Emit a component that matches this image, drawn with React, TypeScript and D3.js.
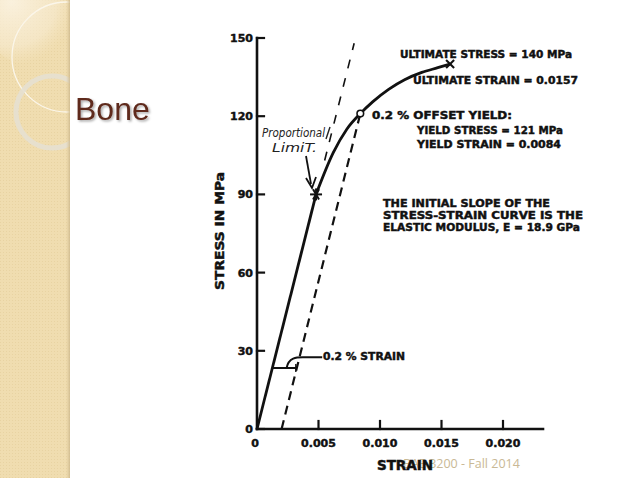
import React from "react";
import * as d3 from "d3";

const W = 638;
const H = 478;

// data
const strainTicks = [0, 0.005, 0.01, 0.015, 0.02];
const strainTickLabels = ["0", "0.005", "0.010", "0.015", "0.020"];
const stressTicks = [0, 30, 60, 90, 120, 150];
const stressTickLabels = ["0", "30", "60", "90", "120", "150"];

const linearStrain = [0, 0.0048];
const linearStress = [0, 90];
const curveStrain = [0.0048, 0.0062, 0.0073, 0.0084, 0.0094, 0.0107, 0.012, 0.0134, 0.0147, 0.0157];
const curveStress = [90, 106, 115, 121, 125.5, 130.3, 134, 136.8, 138.6, 140];
const offsetStrain = [0.002, 0.0084];
const offsetStress = [0, 121];
const extStrain = [0.0055, 0.0079];
const extStress = [103, 148];
const proportional = { strain: 0.0048, stress: 90 };
const yieldPt = { strain: 0.0084, stress: 121 };
const ultimate = { strain: 0.0157, stress: 140 };

const FONT = "DejaVu Sans";

function Caps({ x, y, len, children, size = 10 }: any) {
  return (
    <text
      x={x}
      y={y}
      fontFamily={FONT}
      fontWeight="bold"
      fontSize={size}
      textLength={len}
      lengthAdjust="spacingAndGlyphs"
      fill="#111"
      stroke="#111"
      strokeWidth="0.45"
    >
      {children}
    </text>
  );
}

export default function App() {
  const x = d3.scaleLinear().domain([0, 0.02]).range([257, 503]);
  const y = d3.scaleLinear().domain([0, 150]).range([429, 38]);

  const line = d3
    .line<[number, number]>()
    .x((d) => x(d[0]))
    .y((d) => y(d[1]));
  const curve = d3
    .line<[number, number]>()
    .x((d) => x(d[0]))
    .y((d) => y(d[1]))
    .curve(d3.curveMonotoneX);

  const zip = (a: number[], b: number[]) => a.map((v, i) => [v, b[i]] as [number, number]);

  const px = x(proportional.strain);
  const py = y(proportional.stress);
  const yx = x(yieldPt.strain);
  const yy = y(yieldPt.stress);
  const ux = x(ultimate.strain);
  const uy = y(ultimate.stress);

  // 0.2% strain bracket
  const bStress = 23.4;
  const bx1 = x(bStress / 18750);
  const bx2 = x(0.002 + bStress / 18906);
  const by = y(bStress);
  const ly = y(27.5);

  return (
    <div style={{ position: "fixed", left: 0, top: 0, width: W, height: H }}>
      <svg width={W} height={H} style={{ display: "block" }}>
        <defs>
          <pattern id="dots" width="3" height="3" patternUnits="userSpaceOnUse">
            <rect width="3" height="3" fill="#f0ddb0" />
            <rect width="1" height="1" fill="#e8d3a2" />
          </pattern>
          <linearGradient id="shade" x1="0" x2="1" y1="0" y2="0">
            <stop offset="0" stopColor="#d9c497" stopOpacity="0" />
            <stop offset="1" stopColor="#cbb68a" stopOpacity="0.8" />
          </linearGradient>
          <radialGradient id="glow" cx="0.3" cy="0.3" r="0.7">
            <stop offset="0" stopColor="#fbf3e2" stopOpacity="0.9" />
            <stop offset="0.7" stopColor="#f8ecd3" stopOpacity="0.6" />
            <stop offset="1" stopColor="#f5e6c6" stopOpacity="0" />
          </radialGradient>
          <clipPath id="panel">
            <rect x="0" y="0" width="70" height={H} />
          </clipPath>
          <filter id="tshadow" x="-10%" y="-10%" width="130%" height="140%">
            <feDropShadow dx="1.5" dy="1.5" stdDeviation="1.2" floodColor="#000" floodOpacity="0.35" />
          </filter>
        </defs>
        <rect width={W} height={H} fill="#fff" />
        {/* left decorative panel */}
        <rect x="0" y="0" width="70" height={H} fill="url(#dots)" />
        <g clipPath="url(#panel)">
          <circle cx="30" cy="20" r="45" fill="url(#glow)" />
          <circle cx="67" cy="57" r="55" fill="none" stroke="#fbf6ea" strokeWidth="1.3" />
          <circle cx="52" cy="112" r="36" fill="none" stroke="#e6e0d2" strokeWidth="5" opacity="0.9" />
        </g>
        <rect x="66" y="0" width="4" height={H} fill="url(#shade)" />
        <text
          x="75"
          y="120"
          fontFamily="Liberation Sans"
          fontSize="32"
          fill="#5e2a1c"
          filter="url(#tshadow)"
        >
          Bone
        </text>

        {/* footer */}
        <text x="403" y="468" fontFamily="Open Sans" fontSize="12.5" fill="#c9b995">
          BAE 3200 - Fall 2014
        </text>

        {/* axes */}
        <g stroke="#111" strokeWidth="2.6" fill="none" strokeLinecap="square">
          <line x1={x(0)} y1={y(0)} x2={x(0)} y2={y(150)} />
          <line x1={x(0)} y1={y(0)} x2={543} y2={y(0)} />
          {stressTicks.map((t) => (
            <line key={"yt" + t} x1={x(0)} x2={x(0) + 7} y1={y(t)} y2={y(t)} strokeWidth="2.2" />
          ))}
          {strainTicks.slice(1).map((t) => (
            <line key={"xt" + t} x1={x(t)} x2={x(t)} y1={y(0)} y2={y(0) - 8} strokeWidth="2.2" />
          ))}
        </g>
        {stressTicks.map((t, i) => (
          <text
            key={"yl" + t}
            x={x(0) - 4}
            y={y(t) + 4}
            textAnchor="end"
            fontFamily={FONT}
            fontWeight="bold"
            fontSize="11"
            fill="#111"
            stroke="#111"
            strokeWidth="0.45"
          >
            {stressTickLabels[i]}
          </text>
        ))}
        {strainTicks.map((t, i) => (
          <text
            key={"xl" + t}
            x={x(t) - (i === 0 ? 2 : 0)}
            y={447}
            textAnchor="middle"
            fontFamily={FONT}
            fontWeight="bold"
            fontSize="11"
            fill="#111"
            stroke="#111"
            strokeWidth="0.45"
          >
            {strainTickLabels[i]}
          </text>
        ))}
        <text
          x="405"
          y="470"
          textAnchor="middle"
          fontFamily={FONT}
          fontWeight="bold"
          fontSize="13.5"
          fill="#111"
          stroke="#111"
          strokeWidth="0.5"
        >
          STRAIN
        </text>
        <text
          transform="translate(224,231) rotate(-90)"
          textAnchor="middle"
          fontFamily={FONT}
          fontWeight="bold"
          fontSize="11.5"
          textLength="118"
          lengthAdjust="spacingAndGlyphs"
          fill="#111"
          stroke="#111"
          strokeWidth="0.45"
        >
          STRESS IN MPa
        </text>

        {/* dashed lines */}
        <path d={line(zip(offsetStrain, offsetStress)) || ""} fill="none" stroke="#111" strokeWidth="2.2" strokeDasharray="9 6" />
        <path d={line(zip(extStrain, extStress)) || ""} fill="none" stroke="#111" strokeWidth="1.6" strokeDasharray="9 10" />

        {/* main curve */}
        <path d={line(zip(linearStrain, linearStress)) || ""} fill="none" stroke="#111" strokeWidth="2.8" />
        <path d={curve(zip(curveStrain, curveStress)) || ""} fill="none" stroke="#111" strokeWidth="2.8" />

        {/* markers */}
        <g stroke="#111" strokeWidth="2" fill="none">
          {[0, 60, 120].map((a) => {
            const r = 6;
            const rad = (a * Math.PI) / 180;
            return (
              <line
                key={a}
                x1={px - r * Math.cos(rad)}
                y1={py - r * Math.sin(rad)}
                x2={px + r * Math.cos(rad)}
                y2={py + r * Math.sin(rad)}
              />
            );
          })}
          <line x1={px} y1={py - 6} x2={px} y2={py + 6} />
          <circle cx={yx} cy={yy} r="3.3" fill="#fff" strokeWidth="1.6" />
          <line x1={ux - 4} y1={uy - 4} x2={ux + 4} y2={uy + 4} />
          <line x1={ux - 4} y1={uy + 4} x2={ux + 4} y2={uy - 4} />
        </g>

        {/* 0.2% strain bracket */}
        <g stroke="#111" strokeWidth="2" fill="none">
          <line x1={bx1} y1={by} x2={bx2} y2={by} />
          <line x1={bx2 - 1} y1={by - 4} x2={bx2 - 1} y2={by + 4} strokeWidth="1.4" />
          <path d={`M${(bx1 + bx2) / 2 + 2},${by} C${(bx1 + bx2) / 2 + 4},${ly} ${bx2},${ly} ${bx2 + 6},${ly} L${x(0.0053)},${ly}`} />
        </g>
        <Caps x={323} y={360} len={82}>0.2 % STRAIN</Caps>

        {/* handwritten annotation */}
        <text x="262" y="137" fontFamily="DejaVu Sans" fontStyle="italic" fontSize="12" textLength="63" lengthAdjust="spacingAndGlyphs" fill="#222">
          Proportional
        </text>
        <line x1="330" y1="127" x2="326" y2="139" stroke="#222" strokeWidth="1.4" />
        <text x="272" y="152" fontFamily="DejaVu Sans" fontStyle="italic" fontSize="12" textLength="45" lengthAdjust="spacingAndGlyphs" fill="#222">
          LimiT.
        </text>
        <g stroke="#111" strokeWidth="1.8" fill="none">
          <path d="M306,156 L311,184" />
          <path d="M306,178 L312,188 L316,177" />
        </g>

        {/* text annotations */}
        <Caps x={400} y={58} len={172}>ULTIMATE STRESS = 140 MPa</Caps>
        <Caps x={413} y={84} len={165}>ULTIMATE STRAIN = 0.0157</Caps>
        <Caps x={372} y={119} len={140}>0.2 % OFFSET YIELD:</Caps>
        <Caps x={417} y={134} len={146}>YIELD STRESS = 121 MPa</Caps>
        <Caps x={417} y={148} len={144}>YIELD STRAIN = 0.0084</Caps>
        <Caps x={383} y={207} len={167}>THE INITIAL SLOPE OF THE</Caps>
        <Caps x={383} y={219} len={200}>STRESS-STRAIN CURVE IS THE</Caps>
        <Caps x={383} y={231} len={197}>ELASTIC MODULUS, E = 18.9 GPa</Caps>
      </svg>
    </div>
  );
}
